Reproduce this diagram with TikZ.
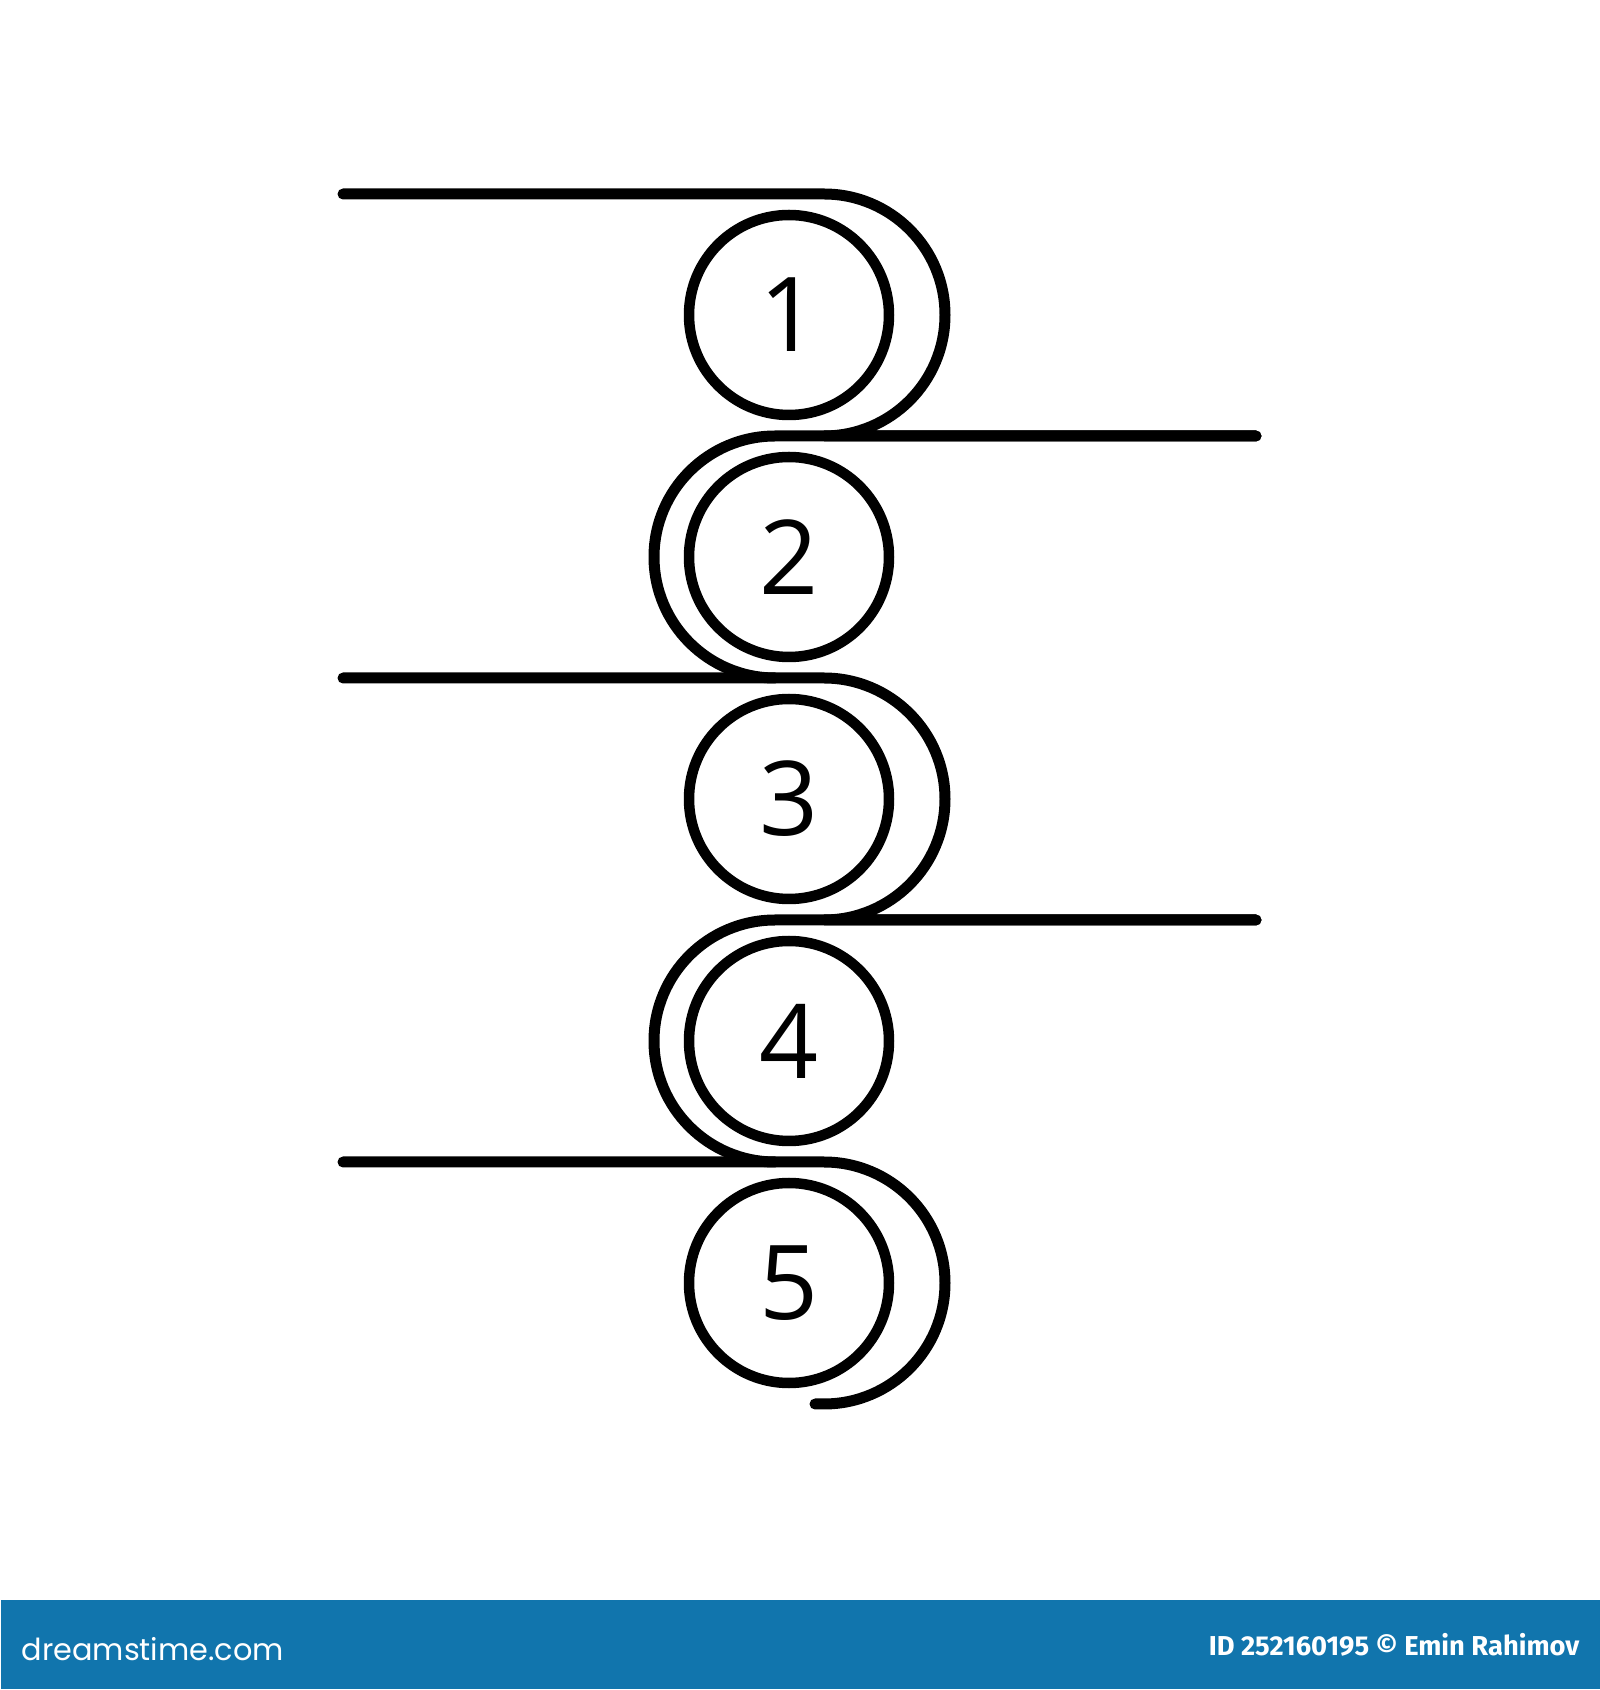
\documentclass[tikz,border=0pt]{standalone}
\usepackage{fontspec}
\setmainfont{Open Sans}
\newfontfamily\logofont{Poppins}
\newfontfamily\idfont{Fira Sans}
\usetikzlibrary{positioning}
\definecolor{dtblue}{RGB}{17,117,173}

\begin{document}
\begin{tikzpicture}[
  roller/.style={circle, draw=black, line width=3.15pt, minimum size=60pt, inner sep=0pt, outer sep=0pt, font=\fontsize{31}{31}\selectfont},
  strip/.style={draw=black, line width=3.3pt, line cap=round}]
%
\useasboundingbox (0,0) rectangle (480pt,507pt);

% ROLLERS
\node [roller] (r1) at (236.7pt,412.5pt) {1};
\node [roller, below=12.6pt of r1] (r2) {2};
\node [roller, below=12.6pt of r2] (r3) {3};
\node [roller, below=12.6pt of r3] (r4) {4};
\node [roller, below=12.6pt of r4] (r5) {5};

% STRIP ENDS
\coordinate (in1) at (102.9pt,448.8pt);
\coordinate (out2) at (376.8pt,376.2pt);
\coordinate (in3) at (102.9pt,303.6pt);
\coordinate (out4) at (376.8pt,231.0pt);
\coordinate (in5) at (102.9pt,158.4pt);
\coordinate (end5) at (244.5pt,85.8pt);

% BANNER
\node [fill=dtblue, minimum width=480pt, minimum height=26.7pt, inner sep=0pt, anchor=south west] (banner) at (0,0) {};
\node [text=white, inner sep=0pt, anchor=base west, font=\logofont\fontsize{9.1}{10}\selectfont] (logo) at (6.3pt,9pt) {dreamstime.com};
\node [text=white, inner sep=0pt, anchor=east, font=\idfont\bfseries\fontsize{8.2}{9}\selectfont] (id) at (474pt,13.6pt) {ID 252160195 © Emin Rahimov};


\draw [strip] (in1) -- (247.2pt,448.8pt) arc[start angle=90, end angle=-90, radius=36.3pt] -- (out2);
\draw [strip] (out2) -- (232.5pt,376.2pt) arc[start angle=90, end angle=270, radius=36.3pt];
\draw [strip] (in3) -- (247.2pt,303.6pt) arc[start angle=90, end angle=-90, radius=36.3pt] -- (out4);
\draw [strip] (out4) -- (232.5pt,231.0pt) arc[start angle=90, end angle=270, radius=36.3pt];
\draw [strip] (in5) -- (247.2pt,158.4pt) arc[start angle=90, end angle=-90, radius=36.3pt] -- (end5);
\end{tikzpicture}
\end{document}
